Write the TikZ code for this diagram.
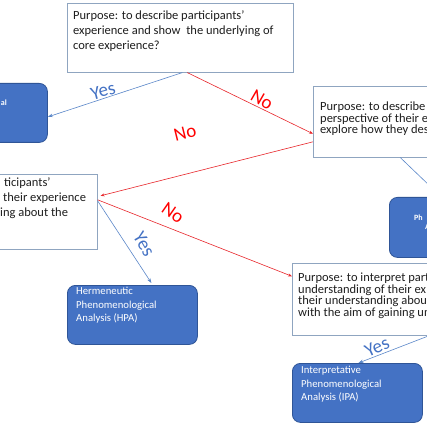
\documentclass[tikz,border=0pt]{standalone}
\usepackage{fontspec}
\setmainfont{Carlito}
\usetikzlibrary{arrows.meta}
\definecolor{methodblue}{HTML}{4472C4}
\definecolor{methodline}{HTML}{2F5597}
\definecolor{boxline}{HTML}{8FA5C0}
\definecolor{arrowblue}{HTML}{5B87C9}
\definecolor{arrowred}{HTML}{E8262B}
\definecolor{textdark}{HTML}{1E1E1E}
\newcommand\tightlines{\fontsize{12.5}{11.5}\selectfont\lineskiplimit-10pt\relax}
\begin{document}
\begin{tikzpicture}[x=1pt,y=-1pt,
  purposebox/.style={draw=boxline,fill=white,line width=0.6pt,minimum width=226pt,inner sep=0pt,anchor=north west},
  methodbox/.style={draw=methodline,fill=methodblue,line width=0.8pt,rounded corners=8pt,minimum width=130pt,minimum height=59pt,inner sep=0pt,anchor=north west},
  purposetext/.style={anchor=north west,align=left,inner sep=0pt,text=textdark,font=\fontsize{12.5}{15}\selectfont},
  tighttext/.style={font=\tightlines},
  methodtext/.style={anchor=north west,align=left,inner sep=0pt,text=white,font=\fontsize{10.7}{13.5}\selectfont},
  yesline/.style={draw=arrowblue,line width=0.6pt,-{Stealth[length=5pt,width=3.5pt]}},
  noline/.style={draw=arrowred,line width=0.6pt,-{Stealth[length=4pt,width=3pt]}},
  yeslabel/.style={text=methodblue,inner sep=0pt,font=\fontsize{19}{19}\selectfont},
  nolabel/.style={text=red,inner sep=0pt,font=\fontsize{19}{19}\selectfont}]
  \fill [white] (0,0) rectangle (427,427);
  \useasboundingbox (0,0) rectangle (427,427);
  \clip (0,0) rectangle (427,427);

  \node (purpose1) [purposebox,minimum height=69pt] at (67,3) {};
  \node (purpose2) [purposebox,minimum height=71pt] at (313,86) {};
  \node (purpose3) [purposebox,minimum height=75pt] at (-129,174) {};
  \node (purpose4) [purposebox,minimum height=72pt] at (292,263) {};
  \node (dpa) [methodbox] at (-83,83) {};
  \node (pa) [methodbox,minimum height=60pt] at (389,197) {};
  \node (hpa) [methodbox] at (67,285) {};
  \node (ipa) [methodbox] at (292,363) {};

  \node (purpose1 text) [purposetext] at (73,10) {Purpose: to describe participants'\\experience and show\ \ the underlying of\\core experience?};
  \node (purpose2 text) [purposetext,tighttext] at (320,102) {Purpose: to describe\\perspective of their e\\explore how they des};
  \node (purpose3 text) [purposetext] at (0,177) {\hspace*{4pt}ticipants'\\\hspace*{3pt}their experience\\ing about the};
  \node (purpose4 text) [purposetext,tighttext] at (298,273) {Purpose: to interpret part\\understanding of their ex\\their understanding abou\\with the aim of gaining un};
  \node (dpa text) [methodtext,font=\bfseries\fontsize{8}{9}\selectfont,anchor=east] at (7,103) {al};
  \node (pa text) [methodtext,font=\bfseries\fontsize{8}{9}\selectfont] at (414,215) {Ph\\\hspace*{11pt}A};
  \node (hpa text) [methodtext] at (76,287) {Hermeneutic\\Phenomenological\\Analysis (HPA)};
  \node (ipa text) [methodtext] at (301,366) {Interpretative\\Phenomenological\\Analysis (IPA)};

  \draw [yesline] ([xshift=2pt]purpose1.south) -- ([yshift=-4pt]dpa.east);
  \draw [noline] ([xshift=7pt]purpose1.south) -- ([yshift=-12pt]purpose2.west);
  \draw [noline] ([yshift=-20pt]purpose2.west) -- ([shift={(3pt,16pt)}]purpose3.east);
  \draw [noline] ([yshift=12pt]purpose3.east) -- ([yshift=23pt]purpose4.west);
  \draw [yesline] ([yshift=11pt]purpose3.east) -- ([shift={(19pt,2pt)}]hpa.north);
  \draw [yesline] ([xshift=-26pt]purpose2.south) -- ([xshift=-13pt]pa.north);
  \draw [yesline] ([xshift=24pt]purpose4.south) -- ([xshift=1pt]ipa.north);

  \node (yes1) [yeslabel,rotate=15] at (103,91) {Yes};
  \node (no1) [nolabel,rotate=-30] at (262,100) {No};
  \node (no2) [nolabel,rotate=14] at (185,133) {No};
  \node (no3) [nolabel,rotate=-35] at (173,213) {No};
  \node (yes2) [yeslabel,rotate=-60] at (144,244) {Yes};
  \node (yes3) [yeslabel,rotate=25] at (377,347) {Yes};
\end{tikzpicture}
\end{document}
